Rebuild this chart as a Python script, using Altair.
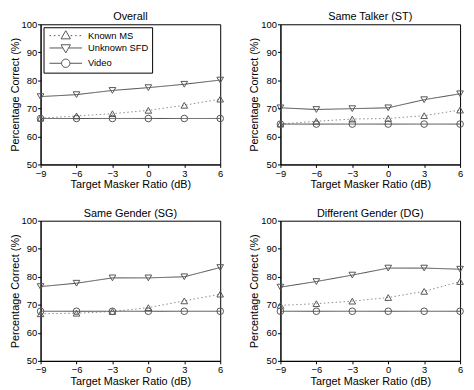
import altair as alt
import pandas as pd

# ---------------- data ----------------
tmr = [-9, -6, -3, 0, 3, 6]
series_names = ["Known MS", "Unknown SFD", "Video"]
panel_titles = ["Overall", "Same Talker (ST)", "Same Gender (SG)", "Different Gender (DG)"]
y_ticks = [50, 60, 70, 80, 90, 100]

overall_known = [66.5, 67.3, 68.1, 69.3, 71.1, 73.3]
overall_unknown = [74.2, 74.9, 76.4, 77.4, 78.6, 80.1]
overall_video = [66.4, 66.4, 66.4, 66.4, 66.4, 66.4]

st_known = [64.4, 65.4, 66.2, 66.4, 67.4, 69.4]
st_unknown = [70.2, 69.6, 69.9, 70.2, 73.1, 75.2]
st_video = [64.4, 64.4, 64.4, 64.4, 64.4, 64.4]

sg_known = [66.8, 67.0, 67.6, 69.0, 71.4, 73.8]
sg_unknown = [76.5, 77.7, 79.6, 79.6, 80.0, 83.3]
sg_video = [67.7, 67.7, 67.7, 67.7, 67.7, 67.7]

dg_known = [69.8, 70.4, 71.3, 72.6, 74.8, 78.3]
dg_unknown = [76.3, 78.3, 80.6, 83.1, 83.1, 82.7]
dg_video = [67.7, 67.7, 67.7, 67.7, 67.7, 67.7]

panel_values = [
    [overall_known, overall_unknown, overall_video],
    [st_known, st_unknown, st_video],
    [sg_known, sg_unknown, sg_video],
    [dg_known, dg_unknown, dg_video],
]

rows = []
for title, vals in zip(panel_titles, panel_values):
    for name, v in zip(series_names, vals):
        for t, y in zip(tmr, v):
            rows.append({"panel": title, "series": name, "tmr": t, "value": y})
df = pd.DataFrame(rows)

# ---------------- styles ----------------
FONT = "Liberation Sans"
line_colors = ["#8c8c8c", "#4a4a4a", "#4a4a4a"]
dashes = [[1.5, 2.5], [1, 0], [1, 0]]
shapes = ["triangle-up", "triangle-down", "circle"]
W, H = 182, 142


def dotted(x0, x1):
    segs = []
    x = x0
    while x < x1:
        segs.append(f"M{x:.2f},0L{min(x + 0.3, x1):.2f},0")
        x += 0.9
    return "".join(segs)


tri_up = "M0,-1L0.95,0.65L-0.95,0.65Z"
tri_dn = "M0,1L0.95,-0.65L-0.95,-0.65Z"
circ = "M0.85,0A0.85,0.85 0 1,1 -0.85,0A0.85,0.85 0 1,1 0.85,0Z"
legend_paths = [
    dotted(-3.3, -1.0) + dotted(1.0, 3.3) + tri_up,
    "M-3.3,0L-0.6,0M0.6,0L3.3,0" + tri_dn,
    "M-3.3,0L-0.85,0M0.85,0L3.3,0" + circ,
]


def panel(title, with_legend):
    base = alt.Chart(df).transform_filter(alt.datum.panel == title)
    x = alt.X("tmr:Q", scale=alt.Scale(domain=[-9, 6], nice=False),
              axis=alt.Axis(values=tmr, title="Target Masker Ratio (dB)",
                            labelFlush=False, labelOverlap=False))
    y = alt.Y("value:Q", scale=alt.Scale(domain=[50, 100], nice=False),
              axis=alt.Axis(values=y_ticks, title="Percentage Correct (%)",
                            labelFlush=False, labelOverlap=False))
    lines = base.mark_line(strokeWidth=1).encode(
        x=x, y=y,
        color=alt.Color("series:N", scale=alt.Scale(domain=series_names, range=line_colors), legend=None),
        strokeDash=alt.StrokeDash("series:N", scale=alt.Scale(domain=series_names, range=dashes), legend=None),
        detail="series:N",
    )
    layers = [lines]
    for s, sh in zip(series_names, shapes):
        layers.append(
            base.transform_filter(alt.datum.series == s)
            .mark_point(shape=sh, size=45, filled=False, strokeWidth=1, color="#555555", opacity=1)
            .encode(x=x, y=y)
        )
    if with_legend:
        layers.append(
            base.transform_filter(alt.datum.tmr == 0)
            .mark_point(filled=False, size=16, strokeWidth=1, color="#555555", opacity=0)
            .encode(
                x=x, y=y,
                shape=alt.Shape(
                    "series:N",
                    scale=alt.Scale(domain=series_names, range=legend_paths),
                    legend=alt.Legend(
                        title=None, orient="top-left", offset=3,
                        strokeColor="black", fillColor="white",
                        padding=3, symbolOffset=14, labelOffset=17,
                        labelFont=FONT, labelFontSize=9.5, labelColor="black",
                        rowPadding=1.5, symbolStrokeColor="#555555",
                        symbolStrokeWidth=1, symbolOpacity=1,
                    ),
                )
            )
        )
    return alt.layer(*layers).properties(
        width=W, height=H,
        title=alt.Title(title, font=FONT, fontSize=11, fontWeight="normal", color="black", offset=-3),
    )


chart = alt.vconcat(
    alt.hconcat(panel(panel_titles[0], True), panel(panel_titles[1], False), spacing=22)
    .resolve_legend(shape="independent").resolve_scale(shape="independent"),
    alt.hconcat(panel(panel_titles[2], False), panel(panel_titles[3], False), spacing=22),
    spacing=17,
).resolve_legend(shape="independent").resolve_scale(shape="independent").properties(padding=0).configure_axis(
    labelFont=FONT, titleFont=FONT, labelFontSize=9.5, titleFontSize=11,
    titleFontWeight="normal", labelColor="black", titleColor="black",
    domainColor="black", tickColor="black", grid=False, tickSize=3,
    labelPadding=1, titlePadding=1,
).configure_view(stroke="black", strokeWidth=1)

chart.save("out.html", embed_options={"renderer": "svg", "actions": False})
